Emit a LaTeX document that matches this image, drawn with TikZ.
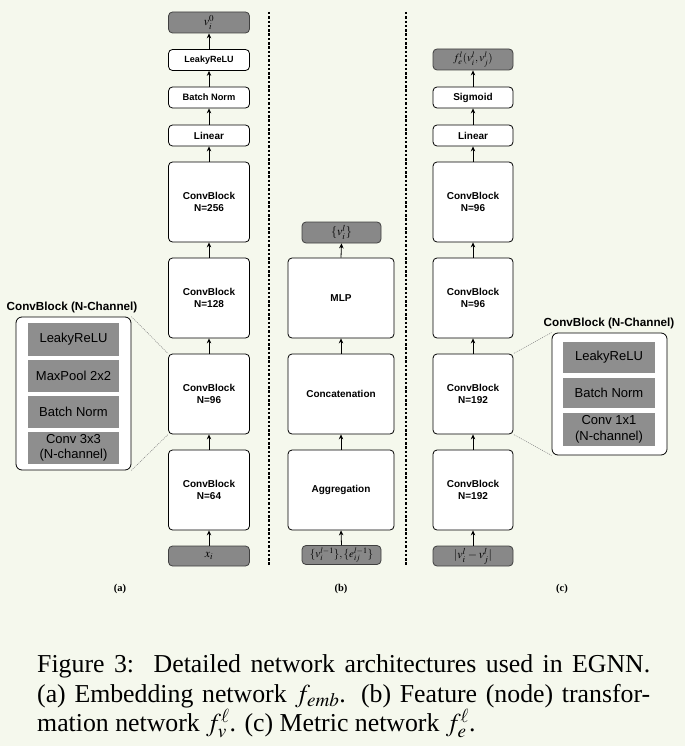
\documentclass[tikz,border=0pt]{standalone}
\usepackage{mathptmx}
\usepackage{fontspec}
\setmainfont{Liberation Serif}
\setsansfont{Liberation Sans}
\usetikzlibrary{arrows.meta}
\definecolor{bgc}{RGB}{245,248,237}
\definecolor{iofill}{RGB}{136,136,136}
\definecolor{inner}{RGB}{142,142,142}
\begin{document}
\begin{tikzpicture}[x=1pt,y=-1pt,
  blk/.style={draw=black, fill=white, rounded corners=4pt, line width=0.8pt,
    font=\sffamily\bfseries\fontsize{10}{12}\selectfont, align=center, inner sep=0pt},
  io/.style={draw=black!75, fill=iofill, rounded corners=4pt, line width=0.8pt,
    font=\fontsize{12}{13}\selectfont, inner sep=0pt},
  ibox/.style={fill=inner, inner sep=0pt, align=center,
    font=\sffamily\fontsize{13}{15.5}\selectfont},
  inset/.style={draw=black, fill=white, rounded corners=6pt, line width=0.8pt, inner sep=0pt},
  arr/.style={-{Stealth[length=5pt,width=4.5pt]}, line width=0.8pt},
  sep/.style={line width=2pt, dash pattern=on 2.5pt off 1.8pt},
  dot/.style={gray, line width=0.5pt, dash pattern=on 1pt off 1pt},
  ttl/.style={font=\sffamily\bfseries\fontsize{11.7}{14}\selectfont},
  sub/.style={font=\bfseries\fontsize{10.5}{12}\selectfont}
]
\fill[bgc] (0,0) rectangle (685,746);
\useasboundingbox (0,0) rectangle (685,746);

% separators
\coordinate (s1t) at (269,12); \coordinate (s1b) at (269,566);
\coordinate (s2t) at (406,12); \coordinate (s2b) at (406,566);
\draw[sep] (s1t) -- (s1b);
\draw[sep] (s2t) -- (s2b);

% column (a)
\node[io, minimum width=81pt, minimum height=21pt] (a0) at (209,22.5) {$v_i^0$};
\node[blk, minimum width=81pt, minimum height=21pt, font=\sffamily\bfseries\fontsize{9}{10}\selectfont] (a1) at (209,60) {LeakyReLU};
\node[blk, minimum width=81pt, minimum height=21pt, font=\sffamily\bfseries\fontsize{9.3}{10}\selectfont] (a2) at (209,97.5) {Batch Norm};
\node[blk, minimum width=81pt, minimum height=21pt] (a3) at (209,135.5) {Linear};
\node[blk, minimum width=81pt, minimum height=80pt] (a4) at (209,202) {ConvBlock\\N=256};
\node[blk, minimum width=81pt, minimum height=80pt] (a5) at (209,298) {ConvBlock\\N=128};
\node[blk, minimum width=81pt, minimum height=80pt] (a6) at (209,394) {ConvBlock\\N=96};
\node[blk, minimum width=81pt, minimum height=80pt] (a7) at (209,490) {ConvBlock\\N=64};
\node[io, minimum width=81pt, minimum height=20pt] (a8) at (209,556) {$x_i$};
\foreach \u/\v in {a8/a7,a7/a6,a6/a5,a5/a4,a4/a3,a3/a2,a2/a1,a1/a0}
  \draw[arr] (\u.north) -- (\v.south);

% column (b)
\node[io, minimum width=79pt, minimum height=21pt] (b0) at (341.5,232.5) {$\{v_i^l\}$};
\node[blk, minimum width=106pt, minimum height=80pt] (b1) at (341,298) {MLP};
\node[blk, minimum width=106pt, minimum height=80pt] (b2) at (341,394) {Concatenation};
\node[blk, minimum width=106pt, minimum height=80pt] (b3) at (341,490) {Aggregation};
\node[io, minimum width=79pt, minimum height=19pt, font=\fontsize{11}{12}\selectfont] (b4) at (341.5,555) {$\{v_i^{l-1}\},\{e_{ij}^{l-1}\}$};
\foreach \u/\v in {b4/b3,b3/b2,b2/b1,b1/b0}
  \draw[arr] (\u.north) -- (\v.south);

% column (c)
\node[io, minimum width=80pt, minimum height=21pt, font=\fontsize{11}{12}\selectfont] (c0) at (473,59.5) {$f_e^l(v_i^l,v_j^l)$};
\node[blk, minimum width=80pt, minimum height=21pt] (c1) at (473,97.5) {Sigmoid};
\node[blk, minimum width=80pt, minimum height=21pt] (c2) at (473,135.5) {Linear};
\node[blk, minimum width=80pt, minimum height=80pt] (c3) at (473,202) {ConvBlock\\N=96};
\node[blk, minimum width=80pt, minimum height=80pt] (c4) at (473,298) {ConvBlock\\N=96};
\node[blk, minimum width=80pt, minimum height=80pt] (c5) at (473,394) {ConvBlock\\N=192};
\node[blk, minimum width=80pt, minimum height=80pt] (c6) at (473,490) {ConvBlock\\N=192};
\node[io, minimum width=80pt, minimum height=20pt] (c7) at (473,556) {$|v_i^l-v_j^l|$};
\foreach \u/\v in {c7/c6,c6/c5,c5/c4,c4/c3,c3/c2,c2/c1,c1/c0}
  \draw[arr] (\u.north) -- (\v.south);

% left inset
\node[ttl] (tl) at (72,307) {ConvBlock (N-Channel)};
\node[inset, minimum width=115pt, minimum height=153pt] (inL) at (73.5,393.5) {};
\node[ibox, minimum width=91pt, minimum height=33pt] (l1) at (73.5,339.5) {LeakyReLU};
\node[ibox, minimum width=91pt, minimum height=32pt] (l2) at (73.5,376) {MaxPool 2x2};
\node[ibox, minimum width=91pt, minimum height=32pt] (l3) at (73.5,412) {Batch Norm};
\node[ibox, minimum width=91pt, minimum height=32pt] (l4) at (73.5,448) {Conv 3x3\\(N-channel)};
\draw[dot] (inL.north east) -- (a6.north west);
\draw[dot] (inL.south east) -- (a6.south west);

% right inset
\node[ttl] (tr) at (609,323) {ConvBlock (N-Channel)};
\node[inset, minimum width=115pt, minimum height=122pt] (inR) at (609.5,394) {};
\node[ibox, minimum width=92pt, minimum height=31pt] (r1) at (609,357.5) {LeakyReLU};
\node[ibox, minimum width=92pt, minimum height=30pt] (r2) at (609,393) {Batch Norm};
\node[ibox, minimum width=92pt, minimum height=33pt] (r3) at (609,429.5) {Conv 1x1\\(N-channel)};
\draw[dot] (inR.north west) -- (c5.north east);
\draw[dot] (inR.south west) -- (c5.south east);

% sub labels
\node[sub] (la) at (120,589) {(a)};
\node[sub] (lb) at (341,589) {(b)};
\node[sub] (lc) at (562,589) {(c)};

% caption
\node[anchor=north west, text width=613pt, align=justify, inner sep=0pt,
  font=\fontsize{25.8}{29.5}\selectfont] (cap) at (37,654.5)
  {Figure 3:\hspace{5pt} Detailed network architectures used in EGNN.\linebreak
   (a) Embedding network $f_{emb}$. (b) Feature (node) transfor-\linebreak
   mation network $f_v^{\ell}$. (c) Metric network $f_e^{\ell}$.};
\end{tikzpicture}
\end{document}
